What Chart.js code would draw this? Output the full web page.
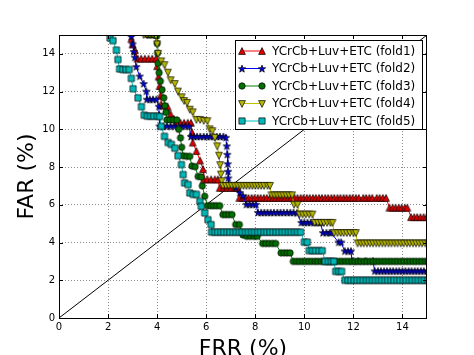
<!DOCTYPE html>
<html><head><meta charset="utf-8">
<script src="https://cdn.jsdelivr.net/npm/chart.js@4/dist/chart.umd.min.js"></script>
<style>html,body{margin:0;padding:0;background:#fff;}#wrap{width:474px;height:355px;}</style>
</head><body><div id="wrap"><canvas id="c" width="474" height="355"></canvas></div>
<script>
const seriesLabels = ['YCrCb+Luv+ETC (fold1)','YCrCb+Luv+ETC (fold2)','YCrCb+Luv+ETC (fold3)','YCrCb+Luv+ETC (fold4)','YCrCb+Luv+ETC (fold5)'];
const xTicks = [0,2,4,6,8,10,12,14];
const yTicks = [0,2,4,6,8,10,12,14];
const diagonal = [[0,0],[15,15]];

const fold1 = [
[2.90,15.30],[2.95,14.80],[3.00,14.50],[3.10,14.20],[3.20,13.75],[3.35,13.75],[3.50,13.75],[3.65,13.75],[3.80,13.75],[3.95,13.75],
[4.00,13.35],[4.06,12.80],[4.10,12.30],[4.14,11.80],[4.17,11.30],[4.30,11.25],[4.43,11.20],[4.55,10.80],[4.68,10.55],[4.80,10.40],
[4.95,10.35],[5.10,10.35],[5.25,10.35],[5.38,10.35],[5.42,9.85],[5.45,9.30],[5.60,8.85],[5.75,8.35],[5.87,7.90],[5.90,7.35],
[6.05,7.35],[6.20,7.35],[6.35,7.35],[6.47,7.35],[6.55,6.90],[6.70,6.90],[6.85,6.90],[7.00,6.90],[7.15,6.90],[7.28,6.90],
[7.35,6.37],[7.48,6.37],[7.60,6.37],[7.72,6.37],[7.85,6.37],[7.97,6.37],[8.10,6.37],[8.22,6.37],[8.35,6.37],[8.47,6.37],
[8.60,6.37],[8.72,6.37],[8.85,6.37],[8.97,6.37],[9.10,6.37],[9.22,6.37],[9.35,6.37],[9.47,6.37],[9.60,6.37],[9.72,6.37],
[9.85,6.37],[9.97,6.37],[10.10,6.37],[10.22,6.37],[10.35,6.37],[10.47,6.37],[10.60,6.37],[10.72,6.37],[10.85,6.37],[10.97,6.37],
[11.10,6.37],[11.22,6.37],[11.35,6.37],[11.47,6.37],[11.60,6.37],[11.72,6.37],[11.85,6.37],[11.97,6.37],[12.10,6.37],[12.22,6.37],
[12.40,6.37],[12.52,6.37],[12.65,6.37],[12.77,6.37],[12.95,6.37],[13.07,6.37],[13.20,6.37],[13.33,6.37],
[13.47,5.85],[13.60,5.85],[13.72,5.85],[13.85,5.85],[13.97,5.85],[14.10,5.85],[14.20,5.85],
[14.35,5.35],[14.48,5.35],[14.60,5.35],[14.73,5.35],[14.86,5.35],[14.98,5.35],[15.10,5.35]
];

const fold2 = [
[2.88,15.30],[2.95,14.90],[3.00,14.50],[3.05,14.10],[3.09,13.80],[3.15,13.30],[3.29,12.80],[3.45,12.40],[3.56,12.00],[3.58,11.57],
[3.70,11.57],[3.83,11.57],[3.97,11.57],[4.07,11.20],[4.08,10.75],[4.10,10.15],[4.25,10.15],[4.40,10.15],[4.55,10.15],[4.70,10.15],
[4.85,10.15],[5.00,10.15],[5.15,10.15],[5.30,10.15],[5.38,9.60],[5.50,9.60],[5.63,9.60],[5.76,9.60],[5.90,9.60],[6.03,9.60],
[6.16,9.60],[6.30,9.60],[6.43,9.60],[6.56,9.60],[6.70,9.60],[6.80,9.55],[6.84,9.10],[6.86,8.65],[6.88,8.15],[6.89,7.75],
[6.90,7.40],[6.92,7.07],[7.20,6.90],[7.37,6.63],[7.50,6.45],[7.64,6.00],[7.77,6.00],[7.90,6.00],[8.03,6.00],[8.11,5.57],
[8.24,5.57],[8.37,5.57],[8.50,5.57],[8.63,5.57],[8.76,5.57],[8.90,5.57],[9.03,5.57],[9.16,5.57],[9.30,5.57],[9.43,5.57],
[9.56,5.57],[9.70,5.55],[9.88,5.04],[10.00,5.04],[10.13,5.04],[10.26,5.04],[10.40,5.04],[10.53,5.04],[10.66,5.04],[10.76,4.50],
[10.90,4.50],[11.03,4.50],[11.10,4.50],[11.40,4.00],[11.50,4.00],[11.65,3.53],[11.78,3.53],[11.90,3.53],[11.95,3.00],[12.20,3.00],
[12.50,3.00],[12.80,3.00],[12.87,2.47],[13.00,2.47],[13.12,2.47],[13.25,2.47],[13.37,2.47],[13.50,2.47],[13.62,2.47],[13.75,2.47],
[13.87,2.47],[14.00,2.47],[14.12,2.47],[14.25,2.47],[14.37,2.47],[14.50,2.47],[14.62,2.47],[14.75,2.47],[14.87,2.47],[15.00,2.47]
];

const fold3 = [
[3.50,15.20],[3.62,15.00],[3.75,15.00],[3.88,15.00],[3.98,14.95],[4.00,14.55],[4.02,14.05],[4.04,13.50],[4.08,13.00],[4.13,12.55],
[4.20,12.10],[4.27,11.67],[4.32,11.25],[4.36,10.90],[4.40,10.50],[4.53,10.50],[4.66,10.50],[4.80,10.50],[4.88,10.00],[4.95,9.55],
[5.00,9.05],[5.06,8.60],[5.20,8.57],[5.33,8.57],[5.42,8.05],[5.55,8.02],[5.67,7.50],[5.80,7.48],[5.84,7.00],[5.94,6.45],
[6.05,5.95],[6.18,5.95],[6.30,5.95],[6.42,5.95],[6.55,5.95],[6.68,5.48],[6.80,5.48],[6.92,5.48],[7.05,5.48],[7.20,4.95],
[7.35,4.95],[7.50,4.40],[7.65,4.33],[7.80,4.33],[7.95,4.33],[8.08,4.33],[8.30,3.95],[8.43,3.95],[8.56,3.95],[8.70,3.95],
[8.83,3.95],[9.05,3.45],[9.18,3.45],[9.30,3.45],[9.42,3.45],[9.55,3.00],[9.68,3.00],[9.80,3.00],[9.93,3.00],[10.05,3.00],
[10.18,3.00],[10.30,3.00],[10.43,3.00],[10.55,3.00],[10.68,3.00],[10.80,3.00],[10.93,3.00],[11.05,3.00],[11.18,3.00],[11.30,3.00],
[11.43,3.00],[11.55,3.00],[11.68,3.00],[11.80,3.00],[11.93,3.00],[12.05,3.00],[12.18,3.00],[12.30,3.00],[12.43,3.00],[12.55,3.00],
[12.68,3.00],[12.80,3.00],[12.93,3.00],[13.05,3.00],[13.18,3.00],[13.30,3.00],[13.43,3.00],[13.55,3.00],[13.68,3.00],[13.80,3.00],
[13.93,3.00],[14.05,3.00],[14.18,3.00],[14.30,3.00],[14.43,3.00],[14.55,3.00],[14.68,3.00],[14.80,3.00],[14.93,3.00],[15.05,3.00]
];

const fold4 = [
[3.35,15.20],[3.45,15.00],[3.58,15.00],[3.70,15.00],[3.83,15.00],[3.95,14.95],[4.00,14.50],[4.04,14.00],[4.17,13.60],[4.30,13.40],
[4.44,13.00],[4.55,12.60],[4.72,12.40],[4.85,12.00],[5.00,11.70],[5.10,11.50],[5.22,11.40],[5.33,11.04],[5.45,10.90],[5.60,10.50],
[5.75,10.50],[5.90,10.45],[6.05,10.43],[6.14,10.00],[6.25,9.90],[6.35,9.55],[6.45,9.10],[6.52,8.60],[6.57,8.10],[6.60,7.60],
[6.63,7.25],[6.68,7.00],[6.80,7.00],[6.92,7.00],[7.04,7.00],[7.16,7.00],[7.28,7.00],[7.40,7.00],[7.52,7.00],[7.64,7.00],
[7.76,7.00],[7.88,7.00],[8.00,7.00],[8.12,7.00],[8.24,7.00],[8.36,7.00],[8.50,7.00],[8.60,7.00],[8.66,6.50],[8.78,6.50],
[8.90,6.50],[9.02,6.50],[9.14,6.50],[9.26,6.50],[9.38,6.50],[9.50,6.50],[9.58,6.00],[9.72,6.00],[9.80,5.48],[9.93,5.48],
[10.06,5.48],[10.20,5.48],[10.33,5.48],[10.42,5.04],[10.55,5.04],[10.68,5.04],[10.80,5.04],[10.93,5.04],[11.06,5.04],[11.15,5.04],
[11.22,4.50],[11.35,4.50],[11.48,4.50],[11.60,4.50],[11.73,4.50],[11.86,4.50],[12.00,4.50],[12.10,4.50],[12.17,3.95],[12.30,3.95],
[12.42,3.95],[12.55,3.95],[12.68,3.95],[12.80,3.95],[12.93,3.95],[13.05,3.95],[13.18,3.95],[13.30,3.95],[13.43,3.95],[13.55,3.95],
[13.68,3.95],[13.80,3.95],[13.93,3.95],[14.05,3.95],[14.18,3.95],[14.30,3.95],[14.43,3.95],[14.55,3.95],[14.68,3.95],[14.80,3.95],
[14.93,3.95],[15.05,3.95]
];

const fold5 = [
[1.95,15.20],[2.08,14.85],[2.20,14.70],[2.34,14.20],[2.40,13.70],[2.47,13.20],[2.60,13.17],[2.73,13.17],[2.86,13.17],[2.95,12.70],
[3.02,12.15],[3.22,11.67],[3.36,11.20],[3.47,10.75],[3.60,10.70],[3.73,10.70],[3.86,10.70],[4.00,10.70],[4.10,10.68],[4.17,10.16],
[4.30,9.63],[4.45,9.30],[4.58,9.20],[4.72,9.00],[4.85,8.60],[4.99,8.13],[5.06,7.60],[5.12,7.16],[5.26,7.07],[5.33,6.63],
[5.47,6.55],[5.60,6.55],[5.74,6.18],[5.80,5.92],[5.94,5.57],[6.07,5.21],[6.20,4.95],[6.22,4.55],[6.35,4.55],[6.47,4.55],
[6.60,4.55],[6.72,4.55],[6.85,4.55],[6.97,4.55],[7.10,4.55],[7.22,4.55],[7.35,4.55],[7.47,4.55],[7.60,4.55],[7.72,4.55],
[7.85,4.55],[7.97,4.55],[8.10,4.55],[8.22,4.55],[8.35,4.55],[8.47,4.55],[8.60,4.55],[8.72,4.55],[8.85,4.55],[8.97,4.55],
[9.10,4.55],[9.22,4.55],[9.35,4.55],[9.47,4.55],[9.60,4.55],[9.72,4.55],[9.85,4.55],[10.00,4.02],[10.12,4.02],[10.20,3.57],
[10.33,3.57],[10.46,3.57],[10.60,3.57],[10.73,3.57],[10.85,3.00],[10.98,3.00],[11.10,3.00],[11.20,3.00],[11.28,2.47],[11.40,2.47],
[11.52,2.47],[11.65,2.00],[11.78,2.00],[11.90,2.00],[12.03,2.00],[12.15,2.00],[12.28,2.00],[12.40,2.00],[12.53,2.00],[12.65,2.00],
[12.78,2.00],[12.90,2.00],[13.03,2.00],[13.15,2.00],[13.28,2.00],[13.40,2.00],[13.53,2.00],[13.65,2.00],[13.78,2.00],[13.90,2.00],
[14.03,2.00],[14.15,2.00],[14.28,2.00],[14.40,2.00],[14.53,2.00],[14.65,2.00],[14.78,2.00],[14.90,2.00],[15.03,2.00]
];

const FONT = '"DejaVu Sans", "Liberation Sans", sans-serif';

function marker(shape, fill) {
  const S = 14, c = document.createElement('canvas');
  c.width = S; c.height = S;
  const g = c.getContext('2d'), m = S / 2, r = 3.4;
  g.beginPath();
  if (shape === 'tu') { g.moveTo(m, m - r); g.lineTo(m + r, m + r); g.lineTo(m - r, m + r); g.closePath(); }
  else if (shape === 'td') { g.moveTo(m, m + r); g.lineTo(m + r, m - r); g.lineTo(m - r, m - r); g.closePath(); }
  else if (shape === 'o') { g.arc(m, m, 3.2, 0, Math.PI * 2); }
  else if (shape === 's') { g.rect(m - 3.1, m - 3.1, 6.2, 6.2); }
  else if (shape === 'st') {
    for (let i = 0; i < 10; i++) {
      const rr = i % 2 ? 1.6 : 3.9;
      const a = -Math.PI / 2 + i * Math.PI / 5;
      const px = m + rr * Math.cos(a), py = m + rr * Math.sin(a);
      if (i) g.lineTo(px, py); else g.moveTo(px, py);
    }
    g.closePath();
  }
  g.fillStyle = fill; g.fill();
  g.lineWidth = 0.7; g.strokeStyle = '#000'; g.stroke();
  return c;
}

const styles = [
  { color: '#ff0000', m: marker('tu', '#e00000') },
  { color: '#0000ff', m: marker('st', '#0000e0') },
  { color: '#008000', m: marker('o', '#007000') },
  { color: '#bfbf00', m: marker('td', '#b8b800') },
  { color: '#00bfbf', m: marker('s', '#00b8b8') }
];
const folds = [fold1, fold2, fold3, fold4, fold5];

const datasets = folds.map((f, i) => ({
  label: seriesLabels[i],
  data: f.map(p => ({ x: p[0], y: p[1] })),
  showLine: true,
  borderColor: styles[i].color,
  backgroundColor: styles[i].color,
  borderWidth: 1,
  pointStyle: styles[i].m,
  pointRadius: 3,
  pointHoverRadius: 3,
  order: 5 - i
}));
datasets.push({
  label: 'diag',
  data: diagonal.map(p => ({ x: p[0], y: p[1] })),
  showLine: true, borderColor: '#000', borderWidth: 1, pointRadius: 0, order: 10
});

const framePlugin = {
  id: 'frame',
  beforeDraw(chart) {
    const ctx = chart.ctx; ctx.save(); ctx.fillStyle = '#fff'; ctx.fillRect(0, 0, chart.width, chart.height); ctx.restore();
  },
  afterDatasetsDraw(chart) {
    const { ctx, chartArea: a, scales } = chart;
    ctx.save();
    ctx.strokeStyle = '#000'; ctx.lineWidth = 1;
    ctx.beginPath();
    xTicks.forEach(v => {
      const x = Math.round(scales.x.getPixelForValue(v)) + 0.5;
      ctx.moveTo(x, a.bottom); ctx.lineTo(x, a.bottom - 4);
      ctx.moveTo(x, a.top); ctx.lineTo(x, a.top + 4);
    });
    yTicks.forEach(v => {
      const y = Math.round(scales.y.getPixelForValue(v)) + 0.5;
      ctx.moveTo(a.left, y); ctx.lineTo(a.left + 4, y);
      ctx.moveTo(a.right, y); ctx.lineTo(a.right - 4, y);
    });
    ctx.stroke();
    ctx.strokeRect(a.left + 0.5, a.top + 0.5, a.right - a.left - 1, a.bottom - a.top);
    ctx.restore();
  },
  afterDraw(chart) {
    const ctx = chart.ctx;
    ctx.save();
    const x0 = 235, y0 = 40, w = 188, h = 90;
    ctx.fillStyle = '#fff'; ctx.fillRect(x0, y0, w, h);
    ctx.strokeStyle = '#000'; ctx.lineWidth = 1;
    ctx.strokeRect(x0 + 0.5, y0 + 0.5, w - 1, h - 1);
    ctx.font = '12px ' + FONT; ctx.textBaseline = 'middle'; ctx.fillStyle = '#000';
    chart.data.datasets.slice(0, 5).forEach((d, i) => {
      const y = 51 + i * 17.5;
      ctx.strokeStyle = styles[i].color; ctx.lineWidth = 1;
      ctx.beginPath(); ctx.moveTo(242, y); ctx.lineTo(262, y); ctx.stroke();
      ctx.drawImage(styles[i].m, 242 - 7, Math.round(y) - 7);
      ctx.drawImage(styles[i].m, 262 - 7, Math.round(y) - 7);
      ctx.fillText(d.label, 272, y + 0.5);
    });
    ctx.restore();
  }
};

new Chart(document.getElementById('c'), {
  type: 'scatter',
  data: { datasets },
  options: {
    responsive: false, animation: false, devicePixelRatio: 1,
    layout: { padding: { left: 0, right: 47, top: 35, bottom: 0 } },
    plugins: { legend: { display: false }, tooltip: { enabled: false } },
    scales: {
      x: {
        type: 'linear', min: 0, max: 15,
        afterBuildTicks: s => { s.ticks = xTicks.map(v => ({ value: v })); },
        afterFit: s => { s.height = 37; },
        grid: { color: 'rgba(0,0,0,0.45)', lineWidth: 1, drawTicks: false },
        border: { display: false, dash: [1, 2] },
        ticks: { font: { family: FONT, size: 10 }, color: '#000', padding: 3, maxRotation: 0, autoSkip: false },
        title: { display: true, text: 'FRR (%)', color: '#000', font: { family: FONT, size: 22, lineHeight: 0.55 }, padding: { top: 0, bottom: 0 } }
      },
      y: {
        type: 'linear', min: 0, max: 15,
        afterBuildTicks: s => { s.ticks = yTicks.map(v => ({ value: v })); },
        afterFit: s => { s.width = 59; },
        grid: { color: 'rgba(0,0,0,0.45)', lineWidth: 1, drawTicks: false },
        border: { display: false, dash: [1, 2] },
        ticks: { font: { family: FONT, size: 10 }, color: '#000', padding: 4, autoSkip: false },
        title: { display: true, text: 'FAR (%)', color: '#000', font: { family: FONT, size: 22, lineHeight: 0.9 }, padding: { top: 17.6, bottom: 0 } }
      }
    }
  },
  plugins: [framePlugin]
});
</script>
</body></html>
